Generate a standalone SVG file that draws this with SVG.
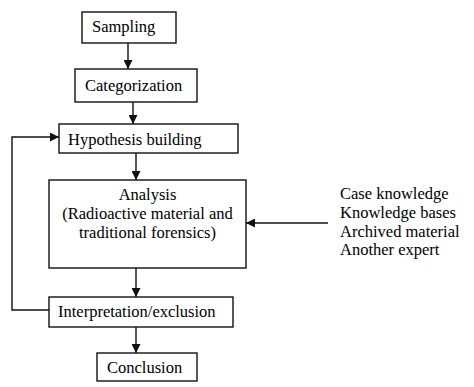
<svg xmlns="http://www.w3.org/2000/svg" width="474" height="387" viewBox="0 0 474 387">
<style>
.box{fill:#fff;stroke:#111;stroke-width:1.4}
text{font-family:"Liberation Serif","Times New Roman",serif;font-size:16.5px;fill:#000}
.c{text-anchor:middle}
.ln{fill:none;stroke:#111;stroke-width:1.4}
</style>
<defs>
<marker id="ah" viewBox="0 0 10 10" refX="10" refY="5" markerWidth="9" markerHeight="9" markerUnits="userSpaceOnUse" orient="auto">
<path d="M0,0 L10,5 L0,10 Z" fill="#111"/>
</marker>
</defs>
<rect width="474" height="387" fill="#fff"/>
<g id="connectors">
<line class="ln" x1="128" y1="43" x2="128" y2="69" marker-end="url(#ah)"/>
<line class="ln" x1="133" y1="102" x2="133" y2="124" marker-end="url(#ah)"/>
<line class="ln" x1="136" y1="153" x2="136" y2="180" marker-end="url(#ah)"/>
<line class="ln" x1="136" y1="268" x2="136" y2="297" marker-end="url(#ah)"/>
<line class="ln" x1="136" y1="327" x2="136" y2="353" marker-end="url(#ah)"/>
<polyline class="ln" points="49,310 12,310 12,137 59,137" marker-end="url(#ah)"/>
<line class="ln" x1="328" y1="223" x2="246" y2="223" marker-end="url(#ah)"/>
</g>
<g id="sampling"><rect class="box" x="82" y="12" width="94" height="31"/><text x="92" y="32">Sampling</text></g>
<g id="categorization"><rect class="box" x="75" y="69" width="122" height="33"/><text x="85" y="91">Categorization</text></g>
<g id="hypothesis"><rect class="box" x="59" y="124" width="179" height="29"/><text x="68" y="145">Hypothesis building</text></g>
<g id="analysis"><rect class="box" x="49" y="180" width="197" height="88"/>
<text class="c" x="147.5" y="200">Analysis</text>
<text class="c" x="147.5" y="219">(Radioactive material and</text>
<text class="c" x="147.5" y="238">traditional forensics)</text></g>
<g id="interpretation"><rect class="box" x="49" y="297" width="184" height="30"/><text x="58" y="317">Interpretation/exclusion</text></g>
<g id="conclusion"><rect class="box" x="97" y="353" width="100" height="28"/><text x="107" y="373">Conclusion</text></g>
<g id="sources">
<text x="340" y="199">Case knowledge</text>
<text x="340" y="218">Knowledge bases</text>
<text x="340" y="237">Archived material</text>
<text x="340" y="255">Another expert</text>
</g>
</svg>
